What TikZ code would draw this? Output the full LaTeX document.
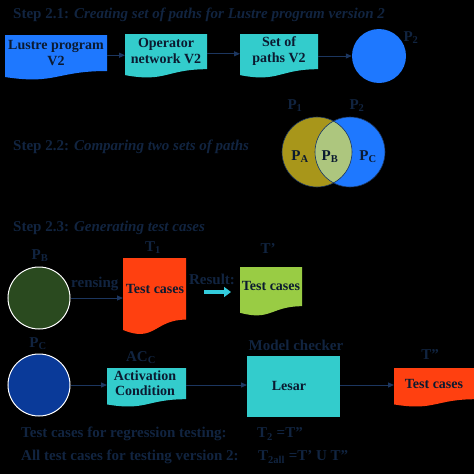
\documentclass[tikz,border=0pt]{standalone}
\usepackage{fontspec}
\setmainfont{Liberation Serif}
\usetikzlibrary{arrows.meta}
\definecolor{navy}{HTML}{112440}
\definecolor{arrowc}{HTML}{1C365F}
\definecolor{boxtxt}{HTML}{0B1A30}
\definecolor{bblue}{HTML}{1E78FF}
\definecolor{bcyan}{HTML}{33CCCC}
\definecolor{bred}{HTML}{FF4010}
\definecolor{bgreen}{HTML}{99CC44}
\definecolor{olivec}{HTML}{A8961A}
\definecolor{lensc}{HTML}{ADC67E}
\definecolor{dgreen}{HTML}{2A4A1F}
\definecolor{dblue}{HTML}{0A3A99}
\definecolor{rescyan}{HTML}{33CCDD}
\newcommand{\fs}{\fontsize{15}{16}\selectfont\bfseries}
\newcommand{\fb}{\fontsize{14}{15.5}\selectfont\bfseries}
\tikzset{
  lbl/.style={text=navy, font=\fs, inner sep=0pt},
  btxt/.style={text=boxtxt, font=\fb, inner sep=0pt, align=center},
  anchorbox/.style={inner sep=0pt, outer sep=0pt, rectangle},
  conn/.style={draw=arrowc, line width=1pt, -{Triangle[length=6pt,width=5pt]}},
  dot/.style={circle, draw=white, line width=1pt, inner sep=0pt, minimum size=62pt},
}
% docbox: name, x1, y1, x2, y2, fill
\newcommand{\docbox}[6]{%
  \fill[#6] (#2,#3) -- (#4,#3) -- (#4,{#3+0.8*(#5-#3)})
    .. controls ({(#2+#4)/2},{#3+0.8*(#5-#3)}) and ({(#2+#4)/2},{#3+1.107*(#5-#3)}) .. (#2,{#3+0.934*(#5-#3)}) -- cycle;
  \node[anchorbox, minimum width={(#4-#2)*1pt}, minimum height={(#5-#3)*0.9pt}] (#1) at ({(#2+#4)/2},{#3+0.45*(#5-#3)}) {};
}
\begin{document}
\begin{tikzpicture}[x=1pt,y=-1pt]
\fill[black] (0,0) rectangle (474,474);
\useasboundingbox (0,0) rectangle (474,474);

% ---- Step 2.1
\node[lbl, anchor=west] (s1) at (13,15) {Step 2.1: \textit{Creating set of paths for Lustre program version 2}};
\docbox{lp}{5}{35}{107}{80}{bblue}
\node[btxt] (lpt) at (56,53) {Lustre program\\V2};
\docbox{on}{125}{34}{207}{78}{bcyan}
\node[btxt] (ont) at (166,51) {Operator\\network V2};
\docbox{sp}{240}{34}{318}{78}{bcyan}
\node[btxt] (spt) at (279,51) {Set of\\paths V2};
\node[circle, fill=bblue, inner sep=0pt, minimum size=54pt] (p2) at (379,56) {};
\node[lbl] (p2l) at (411,38) {P\textsubscript{2}};
\draw[conn] (lp.east) -- (on.west |- lp.east);
\draw[conn] (on.east) -- (sp.west |- on.east);
\draw[conn] (sp.east |- p2.west) -- (p2.west);

% ---- Step 2.2
\node[lbl, anchor=west] (s2) at (13,147) {Step 2.2: \textit{Comparing two sets of paths}};
\node[circle, fill=olivec, inner sep=0pt, minimum size=70pt] (v1) at (317,152) {};
\node[circle, fill=bblue, inner sep=0pt, minimum size=70pt] (v2) at (350,152) {};
\begin{scope}
  \clip (317,152) circle[radius=35pt];
  \fill[lensc] (350,152) circle[radius=35pt];
\end{scope}
\draw[arrowc, line width=0.6pt] (317,152) circle[radius=35pt];
\draw[arrowc, line width=0.6pt] (350,152) circle[radius=35pt];
\node[lbl, text=boxtxt] (pa) at (300,157) {P\textsubscript{A}};
\node[lbl, text=boxtxt] (pb) at (330,157) {P\textsubscript{B}};
\node[lbl, text=boxtxt] (pc) at (368,157) {P\textsubscript{C}};
\node[lbl] (p1v) at (295,106) {P\textsubscript{1}};
\node[lbl] (p2v) at (357,106) {P\textsubscript{2}};

% ---- Step 2.3
\node[lbl, anchor=west] (s3) at (13,228) {Step 2.3: \textit{Generating test cases}};
\node[lbl] (pbl) at (40,256) {P\textsubscript{B}};
\node[dot, fill=dgreen] (cb) at (39,298) {};
\node[lbl, anchor=west] (rens) at (71,284) {rensing};
\docbox{t1}{123}{258}{186}{335}{bred}
\node[btxt] (t1t) at (155,289) {Test cases};
\node[lbl] (t1l) at (153,248) {T\textsubscript{1}};
\draw[conn] (cb.east) -- (t1.west |- cb.east);
\node[lbl] (res) at (212,279) {Result:};
\coordinate (r1) at (204,292);
\coordinate (r2) at (231,292);
\draw[rescyan, line width=3.5pt, -{Triangle[length=7pt,width=10pt]}] (r1) -- (r2);
\docbox{tp}{240}{267}{302}{316}{bgreen}
\node[btxt] (tpt) at (271,286) {Test cases};
\node[lbl] (tpl) at (268,249) {T'};

% ---- P_C row
\node[lbl] (pcl) at (38,344) {P\textsubscript{C}};
\node[dot, fill=dblue] (cc) at (39,385) {};
\node[lbl] (acl) at (141,358) {AC\textsubscript{C}};
\docbox{ac}{107}{368}{186}{407}{bcyan}
\node[btxt] (act) at (145,383) {Activation\\Condition};
\node[anchorbox, fill=bcyan, minimum width=93pt, minimum height=61pt] (les) at (293.5,386.5) {};
\node[btxt] (lest) at (289,386) {Lesar};
\node[lbl] (mc) at (296,345) {Model checker};
\docbox{t2}{394}{368}{476}{407}{bred}
\node[btxt] (t2t) at (434,384) {Test cases};
\node[lbl] (t2l) at (430,355) {T''};
\draw[conn] (cc.east) -- (ac.west |- cc.east);
\draw[conn] (ac.east |- cc.east) -- (les.west |- cc.east);
\draw[conn] (les.east |- cc.east) -- (t2.west |- cc.east);

% ---- bottom
\node[lbl, anchor=west] (b1) at (21,434) {Test cases for regression testing:};
\node[lbl, anchor=west] (b1r) at (257,434) {T\textsubscript{2} =T''};
\node[lbl, anchor=west] (b2) at (21,457) {All test cases for testing version 2:};
\node[lbl, anchor=west] (b2r) at (258,457) {T\textsubscript{2all} =T' U T''};
\end{tikzpicture}
\end{document}
